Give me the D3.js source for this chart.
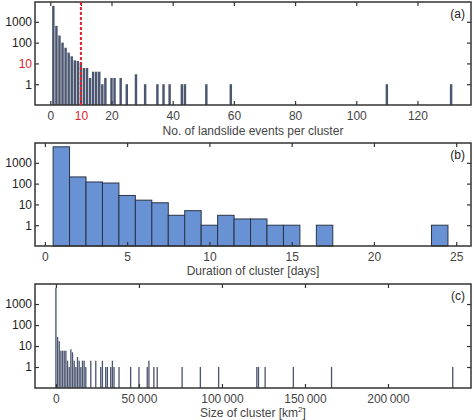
<!DOCTYPE html><html><head><meta charset="utf-8"><script src="https://cdn.jsdelivr.net/npm/d3@7"></script>
<style>body{margin:0;background:#fff}text{font-family:"Liberation Sans",Arial,sans-serif}</style></head><body>
<svg id="c" width="474" height="420"></svg>
<script>
const aBins=[1,2,3,4,5,6,7,8,9,10,11,12,13,14,15,16,17,18,20,21,23,25,28,31,35,37,39,43,44,51,59,110,131];
const aVals=[5900,640,220,100,57,33,22,14,13,11,6,6,2,4,4,4,1,2,2,2,2,1,3,1,1,1,1,1,1,1,1,1,1];
const bBins=[1,2,3,4,5,6,7,8,9,10,11,12,13,14,15,17,24];
const bVals=[5900,210,120,107,27,16,12,3,5,1,3,2,2,1,1,1,1];
const cBins=[0,1,2,3,4,5,6,7,8,9,10,11,12,13,14,15,16,17,18,21,24,27,28,30,31,33,34,35,38,45,50,55,56,59,61,76,87,98,121,122,126,143,166,239];
const cVals=[6000,27,17,6,6,6,6,2,1,7,5,2,1,3,2,1,2,2,1,2,2,1,2,1,1,1,2,1,1,1,1,1,2,1,1,1,1,1,1,1,1,1,1,1];
const yTicks=[1,10,100,1000];
const svg=d3.select("#c");
const L=35,R=471;
function panel(top,bot,xdom,xticks,fmt,bins,vals,bw,style,label,xlabel){
  const x=d3.scaleLinear().domain(xdom).range([L,R]);
  const y=d3.scaleLog().domain([0.1,9000]).range([bot,top]);
  const g=svg.append("g");
  g.selectAll("rect").data(bins).join("rect")
    .attr("x",(d)=>x(d-bw/2)).attr("width",x(bw)-x(0)).attr("y",(d,i)=>y(vals[i]))
    .attr("height",(d,i)=>bot-y(vals[i]))
    .attr("fill",style.fill).attr("stroke",style.stroke).attr("stroke-width",style.sw);
  const ax=g=>g.call(s=>s.select(".domain").remove()).selectAll("line").attr("stroke","#333").attr("stroke-width",1.2);
  g.append("g").attr("transform",`translate(0,${bot})`).call(d3.axisBottom(x).tickValues(xticks).tickSize(-4).tickPadding(6).tickFormat(fmt)).call(ax).selectAll("text").attr("font-size",12).attr("fill","#444");
  g.append("g").attr("transform",`translate(0,${top})`).call(d3.axisTop(x).tickValues(xticks).tickSize(-4).tickFormat("")).call(ax);
  g.append("g").attr("transform",`translate(${L},0)`).call(d3.axisLeft(y).tickValues(yTicks).tickSize(-4).tickPadding(3).tickFormat(d3.format("d"))).call(ax).selectAll("text").attr("font-size",12).attr("fill","#222");
  g.append("g").attr("transform",`translate(${R},0)`).call(d3.axisRight(y).tickValues(yTicks).tickSize(-4).tickFormat("")).call(ax);
  g.append("rect").attr("x",L).attr("y",top).attr("width",R-L).attr("height",bot-top).attr("fill","none").attr("stroke","#333").attr("stroke-width",1.5);
  g.append("text").attr("x",R-6).attr("y",top+16).attr("text-anchor","end").attr("font-size",12).attr("fill","#222").text(label);
  return {g,x,y};
}
const sp=d3.format(",d");
const fmtC=d=>sp(d*1000).replace(/,/g,"\u2009");
const pa=panel(2,105,[-5,137.5],[0,10,20,40,60,80,100,120],d3.format("d"),aBins,aVals,0.8,{fill:"#4b5670",stroke:"none",sw:0},"(a)");
pa.g.append("line").attr("x1",pa.x(10)).attr("x2",pa.x(10)).attr("y1",2).attr("y2",105).attr("stroke","#e0202a").attr("stroke-width",2).attr("stroke-dasharray","3,2");
pa.g.selectAll("g.tick text").filter(d=>d===10).attr("fill","#e0202a");
pa.g.append("text").attr("x",253).attr("y",135).attr("text-anchor","middle").attr("font-size",12).attr("fill","#444").text("No. of landslide events per cluster");
const pb=panel(143,246,[-0.6,25.9],[0,5,10,15,20,25],d3.format("d"),bBins,bVals,1,{fill:"#6892d4",stroke:"#2a3347",sw:1},"(b)");
pb.g.append("text").attr("x",253).attr("y",275).attr("text-anchor","middle").attr("font-size",12).attr("fill","#444").text("Duration of cluster [days]");
const pc=panel(284,388,[-12.6,250],[0,50,100,150,200],fmtC,cBins,cVals,0.8,{fill:"#4b5670",stroke:"none",sw:0},"(c)");
const t=pc.g.append("text").attr("x",253).attr("y",417).attr("text-anchor","middle").attr("font-size",12).attr("fill","#444");
t.append("tspan").text("Size of cluster [km");t.append("tspan").attr("font-size",8).attr("dy",-5).text("2");t.append("tspan").attr("dy",5).text("]");
</script></body></html>
